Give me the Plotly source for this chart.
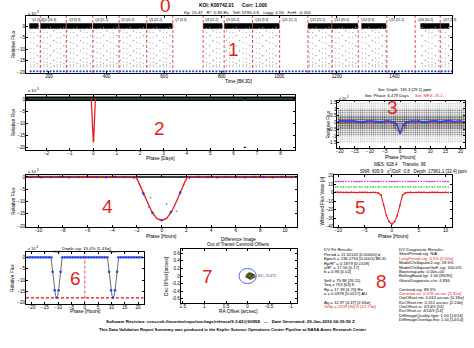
import plotly.graph_objects as go

W, H = 474, 348
FONT = "Liberation Sans, Arial, sans-serif"
RED = "rgb(228,30,34)"
BLUE = "rgb(40,70,225)"

# ---------------- header ----------------
TITLE_LINE = "KOI: K00742.01      Corr: 1.000"
STAR_LINE = "Kp: 15.47   R*: 0.85 Rs   Teff: 5795.0 K   Logg: 4.55   FeH: -0.200"

# fitted ephemeris (BKJD / days) and secondary eclipse
PERIOD_DAYS = 11.52145
EPOCH_BKJD = 136.2753
SEC_PHASE_DAYS = 6.479
SEC_DEPTH = -0.7453          # x1e-3

# ---------------- panel 1: flux time series ----------------
TIME_RANGE = [120, 1600]
QUARTER_NAMES = ["Q1", "Q2", "Q3", "Q4", "Q5", "Q6", "Q7", "Q8", "Q9",
                 "Q10", "Q11", "Q12", "Q13", "Q14", "Q15", "Q16", "Q17"]
QUARTER_MODOUT = ["3.3", "16.3", "3.3", "21.2", "20.2", "21.2", "3.3", "21.2", "20.2",
                  "3.3", "21.2", "21.2", "20.2", "3.3", "21.2", "20.2", "3.3"]
QUARTER_START = [131.5, 169.8, 260.2, 352.4, 443.5, 539.5, 630.2, 735.4, 808.5,
                 906.8, 1001.2, 1099.4, 1182.8, 1274.2, 1373.5, 1472.1, 1559.0]
SEGMENT_START = [131.5, 169.8, 260.2, 352.4, 443.5, 539.5, 735.4, 808.5, 906.8,
                 1099.4, 1182.8, 1285.0, 1490.0, 1559.0]
SEGMENT_END = [164.0, 258.5, 349.5, 442.2, 538.2, 629.3, 802.3, 905.9, 1000.3,
               1182.0, 1273.1, 1371.3, 1558.0, 1591.0]
# in-transit cadences (x1e-3) for four successive transit samplings
IN_TRANSIT_SAMPLES = [
    [-1.2, -5.0, -9.6, -13.9, -16.9, -17.7, -15.6, -11.6, -7.0, -2.6],
    [-2.8, -7.4, -12.0, -15.8, -17.5, -16.8, -14.0, -9.8, -4.9, -0.9],
    [-0.6, -3.9, -8.3, -12.7, -16.2, -17.8, -16.4, -12.9, -8.6, -4.1],
    [-2.1, -6.3, -10.8, -14.9, -17.3, -17.2, -14.8, -10.7, -6.1, -1.8],
]

# ---------------- folded transit model (hours, x1e-3) ----------------
MODEL_HOURS = [-11.0, -2.1, -1.9, -1.6, -1.2, -0.8, -0.4, 0.0, 0.4, 0.8, 1.2, 1.6, 1.9, 2.1, 11.0]
MODEL_FLUX = [0.0, 0.0, -1.8, -5.2, -10.0, -14.2, -16.9, -17.8, -16.9, -14.2, -10.0, -5.2, -1.8, 0.0, 0.0]

# ---------------- panel 2: phased light curve (days) ----------------
PHASE_DAYS_RANGE = [-2.88, 8.64]

# ---------------- panel 3: secondary eclipse (hours, x1e-3) ----------------
SEC_BIN_HOURS = list(range(-20, 21))
SEC_BIN_FLUX = [0.14, 0.12, 0.08, 0.10, 0.13, 0.10, 0.04, 0.02, 0.05, 0.10,
                0.12, 0.09, 0.06, 0.02, 0.04, 0.09, 0.12, 0.06, 0.00, -0.18,
                -0.80, -0.22, 0.00, 0.06, 0.10, 0.08, 0.11, 0.05, 0.00, 0.04,
                0.10, 0.13, 0.10, 0.05, 0.07, 0.11, 0.13, 0.10, 0.05, 0.08, 0.10]
SEC_MODEL_HOURS = [-21.0, -2.1, -1.5, 0.0, 1.5, 2.1, 21.5]
SEC_MODEL_FLUX = [0.0, 0.0, -0.50, -0.75, -0.50, 0.0, 0.0]
SEC_SCATTER_OUTER = 1.5
SEC_SCATTER_MID = 1.0
SEC_SCATTER_INNER = 0.5

# ---------------- panel 4: binned folded flux ----------------
BIN4_HOURS = [-10.5, -9.75, -9.0, -8.25, -7.5, -6.75, -6.0, -5.25, -4.5, -3.75, -3.0, -2.25,
              -1.5, -0.75, 0.0, 0.75, 1.5,
              2.25, 3.0, 3.75, 4.5, 5.25, 6.0, 6.75, 7.5, 8.25, 9.0, 9.75, 10.5]
BIN4_FLUX = [0.1, -0.1, 0.0, 0.1, -0.1, 0.0, 0.1, 0.0, -0.1, 0.1, 0.0, -0.2,
             -6.6, -14.6, -17.6, -14.3, -6.4,
             -0.2, 0.1, 0.0, -0.1, 0.1, 0.0, -0.1, 0.1, 0.0, -0.1, 0.1, 0.0]
SCAT4_HOURS = [-1.8, -1.45, -1.05, -0.6, -0.2, 0.25, 0.65, 1.05, 1.45, 1.8, -0.9, 0.4, 1.2]
SCAT4_FLUX = [-3.2, -7.4, -12.3, -15.6, -17.4, -17.3, -15.1, -11.8, -7.0, -3.0, -8.5, -11.0, -14.0]

# ---------------- panel 5: whitened flux (sigma) ----------------
WHITE_HOURS = [h / 2 for h in range(-21, 22)]
WHITE_FLUX = [0.5, 0.2, 0.4, 0.1, 0.3, 0.0, 0.4, 0.2, 0.0, 0.3, 0.1, 0.4, 0.2, 0.0, 0.3, 0.1,
              -0.5, -3.0, -15.0, -27.0, -34.0, -37.0, -34.0, -27.0, -15.0, -3.0, -0.5,
              0.1, 0.3, 0.0, 0.2, 0.4, 0.1, 0.3, 0.0, 0.2, 0.4, 0.1, 0.3, 0.0, 0.2, 0.4, 0.1]
WHITE_UPPER = 12.8
WHITE_LOWER = 6.5

# ---------------- panel 6: odd / even transits ----------------
ODD_CENTER_HOURS = -10.6
EVEN_CENTER_HOURS = 10.6
ODD_DEPTH = -17.7
EVEN_DEPTH = -18.0
FLAT6_HOURS = [-21.5, -20.5, -19.5, -18.5, -17.5, -16.5, -15.5, -14.5, -13.5, -12.5, None,
               -8.5, -7.5, -6.5, -5.5, -4.5, -3.5, -2.5, -1.5, -0.5, 0.5, 1.5, 2.5, 3.5,
               4.5, 5.5, 6.5, 7.5, 8.5, None, 12.5, 13.5, 14.5, 15.5, 16.5, 17.5, 18.5, 19.5, 20.5, 21.5]
DIP6_HOURS = [-1.5, -0.75, 0.0, 0.75, 1.5]
DIP6_FLUX = [-6.4, -14.5, -17.8, -14.5, -6.4]

# ---------------- panel 7: centroid offsets (arcsec) ----------------
CENTROID_RA = [-0.02, -0.05, -0.08, 0.01, -0.10, -0.04, -0.06, -0.12, -0.03, -0.07, -0.09, -0.01, -0.05, -0.14]
CENTROID_DEC = [0.02, -0.03, 0.04, -0.01, 0.00, 0.05, -0.05, 0.01, -0.02, 0.03, -0.04, 0.02, 0.00, -0.01]
CENTROID_3SIGMA = 0.2
TARGET_LABEL = "KIC, 15.472"

# ---------------- text blocks ----------------
FIT_LINES = [
    ("Period = 11.52145 [0.00000] d", "black"),
    ("Epoch = 136.2753 [0.0001] BKJD", "black"),
    ("Rp/R* = 0.1879 [0.0109]", "black"),
    ("a/R* = 17.16 [0.17]", "black"),
    ("b = 0.96 [0.02]", "black"),
    ("", "black"),
    ("Seff = 75.98 [26.11]", "black"),
    ("Teq = 753 [63] K", "black"),
    ("Rp = 17.39 [4.70] Re", "black"),
    ("a = 0.0978 [0.0217] AU", "black"),
    ("", "black"),
    ("Ag = 12.97 [4.47] [2.66σ]", "black"),
    ("Teffp = 2209 [94] K [12.73σ]", RED),
]
DIAG_LINES = [
    ("ShortPeriod-sig: N/A", "black"),
    ("LongPeriod-sig: 0.0% [0.00σ]", RED),
    ("ModelChiSquare2-sig: 28.5%", "black"),
    ("ModelChiSquareGoF-sig: 100.0%", "black"),
    ("Bootstrap-pfa: 0.00e+00", "black"),
    ("RollingBand-fgt: 1.00 [90/90]", "black"),
    ("GhostDiagnostic-chr: 4.836", "black"),
    ("", "black"),
    ("Centroid-sig: 89.5%", "black"),
    ("Centroid-so: 0.078 arcsec [3.31σ]", RED),
    ("OotOffset-rm: 0.013 arcsec [0.18σ]", "black"),
    ("KicOffset-rm: 0.151 arcsec [2.24σ]", "black"),
    ("OotOffset-st: 4/14/5 [14]", "black"),
    ("KicOffset-st: 4/14/5 [14]", "black"),
    ("DiffImageQuality-fgm: 1.00 [14/14]", "black"),
    ("DiffImageOverlap-fno: 1.00 [14/14]", "black"),
]
FOOTER_1 = ("Software Revision: svn+ssh://murzim/repo/soc/tags/release/9.3.42@60958   ---   "
            "Date Generated: 29-Jan-2016 06:39:59 Z")
FOOTER_2 = ("This Data Validation Report Summary was produced in the Kepler Science "
            "Operations Center Pipeline at NASA Ames Research Center")

# =====================================================================
fig = go.Figure()
annotations = []


def px_x(x):
    return x / W


def px_y(y):
    return 1 - y / H


def text(x, y, s, size=4.8, color="black", xanchor="center", yanchor="middle", angle=0, bold=False):
    annotations.append(dict(
        x=px_x(x), y=px_y(y), xref="paper", yref="paper", text=f"<b>{s}</b>" if bold else s,
        showarrow=False, xanchor=xanchor, yanchor=yanchor, textangle=angle,
        font=dict(family=FONT, size=size, color=color)))


def axes(i, box, xr, yr, xt, yt, xtt=None, ytt=None):
    x0, x1, y0, y1 = box
    common = dict(showline=True, mirror="ticks", linecolor="black", linewidth=0.8,
                  ticks="inside", ticklen=2, tickwidth=0.6, tickcolor="black",
                  showgrid=False, zeroline=False, ticklabelstandoff=-1,
                  tickfont=dict(family=FONT, size=4.6, color="black"))
    sx = "" if i == 1 else str(i)
    xa = dict(common, domain=[px_x(x0), px_x(x1)], range=xr, anchor=f"y{sx}", tickvals=xt)
    ya = dict(common, domain=[px_y(y1), px_y(y0)], range=yr, anchor=f"x{sx}", tickvals=yt)
    if xtt:
        xa["ticktext"] = xtt
    if ytt:
        ya["ticktext"] = ytt
    fig.layout[f"xaxis{sx}"] = xa
    fig.layout[f"yaxis{sx}"] = ya
    return f"x{sx}", f"y{sx}"


def add(xa, ya, **kw):
    fig.add_trace(go.Scatter(xaxis=xa, yaxis=ya, showlegend=False, hoverinfo="skip", **kw))


# transit times from ephemeris
transits = []
t = EPOCH_BKJD
while t < TIME_RANGE[1]:
    transits.append(t)
    t += PERIOD_DAYS


def in_data(tt):
    return any(a <= tt <= b for a, b in zip(SEGMENT_START, SEGMENT_END))


# ---------------- panel 1 ----------------
p1y = [-20.4, 4.6]
xa, ya = axes(1, (25, 452, 14, 72), TIME_RANGE, p1y, list(range(200, 1401, 200)), [0, -5, -10, -15, -20])
# out-of-transit flux band
bx, by = [], []
for a, b in zip(SEGMENT_START, SEGMENT_END):
    bx += [a, b, None]
    by += [0.1, 0.1, None]
add(xa, ya, x=bx, y=by, mode="lines", line=dict(color="black", width=5.5))
# in-transit cadences
tx, ty = [], []
for k, tt in enumerate(transits):
    if in_data(tt):
        prof = IN_TRANSIT_SAMPLES[k % len(IN_TRANSIT_SAMPLES)]
        tx += [tt] * len(prof)
        ty += prof
add(xa, ya, x=tx, y=ty, mode="markers", marker=dict(color="rgb(160,160,160)", size=1.2))
# quarter boundaries
qx, qy = [], []
for q in QUARTER_START[1:]:
    qx += [q, q, None]
    qy += [p1y[0], p1y[1], None]
add(xa, ya, x=qx, y=qy, mode="lines", line=dict(color=RED, width=0.8, dash="3px,2px"))
# transit markers
add(xa, ya, x=transits, y=[-19.7] * len(transits), mode="markers",
    marker=dict(color=BLUE, size=2.2))
for name, mo, q in zip(QUARTER_NAMES, QUARTER_MODOUT, QUARTER_START):
    annotations.append(dict(x=q, y=p1y[1], xref=xa, yref=ya, text=f"{name} [{mo}]", showarrow=False,
                            xanchor="left", yanchor="top", xshift=0.3, yshift=-0.3,
                            font=dict(family=FONT, size=3.2, color="black")))
text(25, 11, "x 10<sup>-3</sup>", size=4.2, xanchor="left")
text(238, 80.5, "Time [BKJD]", size=4.8)
text(12, 43, "Relative Flux", size=4.8, angle=-90)

# ---------------- panel 2 ----------------
xa, ya = axes(2, (25, 295, 94, 150), PHASE_DAYS_RANGE, [-20.9, 1.75], list(range(-2, 9)),
              [0, -5, -10, -15, -20])
add(xa, ya, x=PHASE_DAYS_RANGE, y=[0.05, 0.05], mode="lines", line=dict(color="black", width=4.5))
add(xa, ya, x=[PHASE_DAYS_RANGE[0], SEC_PHASE_DAYS - 0.08, SEC_PHASE_DAYS, SEC_PHASE_DAYS + 0.08,
               PHASE_DAYS_RANGE[1]],
    y=[0, 0, SEC_DEPTH, 0, 0], mode="lines", line=dict(color="rgb(60,160,120)", width=0.8))
add(xa, ya, x=[h / 24 for h in MODEL_HOURS[1:-1]], y=MODEL_FLUX[1:-1], mode="lines",
    line=dict(color=RED, width=1.3))
add(xa, ya, x=[SEC_PHASE_DAYS], y=[-19.9], mode="markers",
    marker=dict(color="black", size=2.5, symbol="triangle-up"))
text(25, 89, "x 10<sup>-3</sup>", size=4.2, xanchor="left")
text(160, 158.5, "Phase [Days]", size=4.8)
text(12, 122, "Relative Flux", size=4.8, angle=-90)

# ---------------- panel 3 ----------------
p3x = [-20.8, 21.5]
xa, ya = axes(3, (337, 465, 100, 148), p3x, [-1.88, 1.62], list(range(-20, 21, 5)),
              [1.5, 1, 0.5, 0, -0.5, -1, -1.5], None, ["1.5", "1", "0.5", "0", "-0.5", "-1", "-1.5"])
for lim, col, sol in [(SEC_SCATTER_OUTER, "rgb(110,110,110)", 0.3),
                      (SEC_SCATTER_MID, "rgb(50,50,50)", 0.4),
                      (SEC_SCATTER_INNER, "rgb(10,10,10)", 0.55)]:
    add(xa, ya, x=[p3x[0], p3x[1], p3x[1], p3x[0], p3x[0]], y=[-lim, -lim, lim, lim, -lim],
        mode="lines", line=dict(width=0), fill="toself", fillcolor="rgba(255,255,255,0)",
        fillpattern=dict(shape=".", fgcolor=col, bgcolor="rgba(255,255,255,0)", size=2.2, solidity=sol))
add(xa, ya, x=SEC_MODEL_HOURS, y=SEC_MODEL_FLUX, mode="lines", line=dict(color=RED, width=0.8))
add(xa, ya, x=SEC_BIN_HOURS, y=SEC_BIN_FLUX, mode="lines+markers",
    line=dict(color=BLUE, width=1.4), marker=dict(color=BLUE, size=2.2))
add(xa, ya, x=[0], y=[-1.8], mode="markers", marker=dict(color=RED, size=2.5, symbol="triangle-up"))
text(337, 97, "x 10<sup>-3</sup>", size=3.8, xanchor="left")
text(405, 88.5, "Sec Depth: 745.3 [29.1] ppm", size=4.2)
text(413, 94.5, "Sec Phase: 6.479 Days  ", size=4.2, xanchor="right")
text(413, 94.5, "Sec MES: 25.1", size=4.2, xanchor="left", color=RED)
text(400, 158, "Phase [Hours]", size=4.8)
text(328, 124, "Relative Flux", size=4.8, angle=-90)
text(400, 165, "MES: 628.4    Transits: 96", size=4.5)
text(413, 171, "SNR: 609.9   χ<sup>2</sup>/DoF: 0.8   Depth: 17961.1 [32.4] ppm", size=4.5)

# ---------------- panel 4 ----------------
xa, ya = axes(4, (25, 297, 176, 228), [-11, 11], [-20.3, 0.6], list(range(-10, 11, 2)),
              [0, -5, -10, -15, -20])
add(xa, ya, x=[-11, 11], y=[0, 0], mode="lines", line=dict(color="rgb(60,60,60)", width=2.2))
add(xa, ya, x=SCAT4_HOURS, y=SCAT4_FLUX, mode="markers", marker=dict(color="rgb(120,120,120)", size=1.6))
add(xa, ya, x=MODEL_HOURS, y=MODEL_FLUX, mode="lines", line=dict(color=RED, width=1.3))
add(xa, ya, x=BIN4_HOURS, y=BIN4_FLUX, mode="markers",
    marker=dict(color="rgba(50,40,200,0.85)", size=2.6))
text(25, 171.5, "x 10<sup>-3</sup>", size=4.2, xanchor="left")
text(160, 238, "Phase [Hours]", size=4.8)
text(12, 202, "Relative Flux", size=4.8, angle=-90)

# ---------------- panel 5 ----------------
xa, ya = axes(5, (334, 452, 176, 228), [-10.7, 11.2], [-40, 20], [-10, -5, 0, 5, 10],
              [20, 10, 0, -10, -20, -30, -40])
add(xa, ya, x=WHITE_HOURS, y=[WHITE_UPPER] * len(WHITE_HOURS), mode="lines+markers",
    line=dict(color="rgb(225,40,225)", width=0.8, dash="dash"),
    marker=dict(color="rgb(225,40,225)", size=1.5))
add(xa, ya, x=WHITE_HOURS, y=[WHITE_LOWER] * len(WHITE_HOURS), mode="lines+markers",
    line=dict(color="rgb(40,215,40)", width=0.8, dash="dot"),
    marker=dict(color="rgb(40,215,40)", size=1.5))
add(xa, ya, x=WHITE_HOURS, y=WHITE_FLUX, mode="lines+markers",
    line=dict(color=RED, width=1.1), marker=dict(color=RED, size=1.8))
text(393, 238, "Phase [Hours]", size=4.8)
text(322, 202, "Whitened Flux Value [σ]", size=4.6, angle=-90)

# ---------------- panel 6 ----------------
p6y = [-20.4, 2.2]
xa, ya = axes(6, (25, 143, 254, 306), [-22.1, 22.1], p6y, list(range(-20, 21, 5)),
              [0, -5, -10, -15, -20])
for c, d in [(ODD_CENTER_HOURS, ODD_DEPTH), (EVEN_CENTER_HOURS, EVEN_DEPTH)]:
    add(xa, ya, x=[-22.1, 22.1], y=[d, d], mode="lines", line=dict(color=RED, width=0.8, dash="3px,2px"))
    add(xa, ya, x=[h + c for h in MODEL_HOURS[1:-1]], y=MODEL_FLUX[1:-1], mode="lines",
        line=dict(color="rgb(70,70,70)", width=0.8))
    add(xa, ya, x=[h + c for h in DIP6_HOURS], y=DIP6_FLUX, mode="markers",
        marker=dict(color=BLUE, size=2.6))
add(xa, ya, x=[0, 0], y=p6y, mode="lines", line=dict(color=RED, width=0.8, dash="3px,2px"))
add(xa, ya, x=FLAT6_HOURS, y=[None if h is None else 0 for h in FLAT6_HOURS], mode="lines+markers",
    line=dict(color=BLUE, width=1.6), marker=dict(color=BLUE, size=2.4), connectgaps=False)
annotations.append(dict(x=ODD_CENTER_HOURS, y=0.6, xref=xa, yref=ya, text="Odd", showarrow=False,
                        yanchor="bottom", font=dict(family=FONT, size=3.8)))
annotations.append(dict(x=EVEN_CENTER_HOURS, y=0.6, xref=xa, yref=ya, text="Even", showarrow=False,
                        yanchor="bottom", font=dict(family=FONT, size=3.8)))
text(25, 250, "x 10<sup>-3</sup>", size=4.0, xanchor="left")
text(86, 250, "Depth-sig: 15.4% [1.43σ]", size=4.4)
text(84, 314, "Phase [Hours]", size=4.8)
text(12, 280, "Relative Flux", size=4.8, angle=-90)

# ---------------- panel 7 ----------------
xa, ya = axes(7, (180, 297, 251, 305), [1.55, -1.15], [-0.7, 0.7], [1.5, 1, 0.5, 0, -0.5, -1],
              [-0.6, -0.4, -0.2, 0, 0.2, 0.4, 0.6], ["1.5", "1", "0.5", "0", "-0.5", "-1"],
              ["-0.6", "-0.4", "-0.2", "0", "0.2", "0.4", "0.6"])
fig.add_shape(type="circle", xref=xa, yref=ya, x0=-CENTROID_3SIGMA, x1=CENTROID_3SIGMA,
              y0=-CENTROID_3SIGMA, y1=CENTROID_3SIGMA, line=dict(color=BLUE, width=0.8))
add(xa, ya, x=CENTROID_RA, y=CENTROID_DEC, mode="markers",
    marker=dict(color="rgb(150,150,40)", size=3, line=dict(color="black", width=0.5)))
annotations.append(dict(x=min(CENTROID_RA), y=0, xref=xa, yref=ya, text=TARGET_LABEL, showarrow=False,
                        xanchor="left", xshift=2, font=dict(family=FONT, size=3.4)))
text(238, 241, "Difference Image", size=4.6)
text(238, 246.5, "Out of Transit Centroid Offsets", size=4.6)
text(238, 314, "RA Offset [arcsec]", size=4.8)
text(165, 278, "Dec Offset [arcsec]", size=4.6, angle=-90)

# ---------------- panel 8: text results ----------------
text(322, 251, "DV Fit Results:", size=4.4, xanchor="left")
for i, (s, c) in enumerate(FIT_LINES):
    if s:
        text(322, 256.3 + 4.4 * i, s, size=4.2, color=c, xanchor="left")
text(397, 251, "DV Diagnostic Results:", size=4.4, xanchor="left")
for i, (s, c) in enumerate(DIAG_LINES):
    if s:
        text(397, 255.6 + 4.45 * i, s, size=4.2, color=c, xanchor="left")

# ---------------- header & footer ----------------
text(232, 4, TITLE_LINE, size=4.8, bold=True)
text(247, 10.5, STAR_LINE, size=4.4)
text(230, 324, FOOTER_1, size=4.4, bold=True)
text(232, 332, FOOTER_2, size=4.2, bold=True)

# panel index markers
for s, x, y in [("0", 165, 4), ("1", 233, 48), ("2", 159, 128), ("3", 392, 107), ("4", 107, 207),
                ("5", 360, 209), ("6", 75, 281), ("7", 207, 279), ("8", 381, 284)]:
    text(x, y, s, size=19, color=RED)

fig.update_layout(width=W, height=H, margin=dict(l=0, r=0, t=0, b=0),
                  paper_bgcolor="white", plot_bgcolor="white", annotations=annotations,
                  font=dict(family=FONT, size=5))
fig.write_html("out.html")
